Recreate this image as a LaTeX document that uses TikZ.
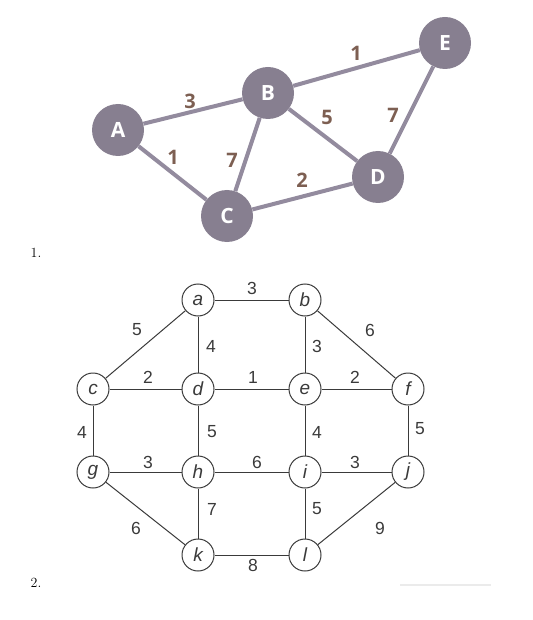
\documentclass[tikz,border=0pt]{standalone}
\usepackage{fontspec}
\newfontfamily\graphfont{Open Sans}
\newfontfamily\helvfont{Liberation Sans}

\definecolor{nodegray}{HTML}{877F90}
\definecolor{edgegray}{HTML}{938B9E}
\definecolor{weightbrown}{HTML}{7D5F52}
\definecolor{inkgray}{HTML}{3A3A3A}

\tikzstyle{bignode} = [
circle,
minimum size=52pt,
inner sep=0pt,
fill=nodegray,
text=white,
font=\graphfont\bfseries\fontsize{21}{23}\selectfont
]
\tikzstyle{bigedge} = [
line width=4pt,
draw=edgegray
]
\tikzstyle{bigweight} = [
inner sep=0pt,
text=weightbrown,
font=\graphfont\bfseries\fontsize{20}{22}\selectfont
]
\tikzstyle{smallnode} = [
circle,
minimum size=32pt,
inner sep=0pt,
draw=inkgray,
line width=1pt,
fill=white,
text=inkgray,
font=\helvfont\itshape\fontsize{19}{21}\selectfont
]
\tikzstyle{smalledge} = [
line width=1pt,
draw=inkgray
]
\tikzstyle{smallweight} = [
inner sep=0pt,
text=inkgray,
font=\helvfont\fontsize{17.5}{19}\selectfont
]
\tikzstyle{itemlabel} = [
inner sep=0pt,
font=\fontsize{14}{16}\selectfont
]

\begin{document}
\begin{tikzpicture}[
x=1pt,
y=-1pt
]
\useasboundingbox (0,0) rectangle (532,620);

% Item numbers
\node (item1) [itemlabel] at (36,253) {1.};
\node (item2) [itemlabel] at (36,583) {2.};

% Nodes, first graph
\node (A) [bignode] at (118,130) {A};
\node (B) [bignode] at (268,93) {B};
\node (C) [bignode] at (227,216) {C};
\node (D) [bignode] at (378,177) {D};
\node (E) [bignode] at (445,43) {E};

% Edges, first graph
\draw [bigedge] (A) -- (B);
\draw [bigedge] (A) -- (C);
\draw [bigedge] (B) -- (C);
\draw [bigedge] (B) -- (D);
\draw [bigedge] (B) -- (E);
\draw [bigedge] (C) -- (D);
\draw [bigedge] (D) -- (E);

% Weights, first graph
\node (wAB) [bigweight] at (190,101) {3};
\node (wAC) [bigweight] at (173,157) {1};
\node (wBC) [bigweight] at (232,160) {7};
\node (wBE) [bigweight] at (356,53) {1};
\node (wBD) [bigweight] at (327,117) {5};
\node (wDE) [bigweight] at (393,115) {7};
\node (wCD) [bigweight] at (302,180) {2};

% Nodes, second graph
\node (a) [smallnode] at (198,300) {a};
\node (b) [smallnode] at (305,300) {b};
\node (c) [smallnode] at (93,389) {c};
\node (d) [smallnode] at (198,389) {d};
\node (e) [smallnode] at (305,389) {e};
\node (f) [smallnode] at (408,389) {f};
\node (g) [smallnode] at (93,472) {g};
\node (h) [smallnode] at (198,472) {h};
\node (i) [smallnode] at (305,472) {i};
\node (j) [smallnode] at (408,472) {j};
\node (k) [smallnode] at (198,555) {k};
\node (l) [smallnode] at (305,555) {l};

% Edges, second graph
\draw [smalledge] (a) -- (b);
\draw [smalledge] (a) -- (c);
\draw [smalledge] (a) -- (d);
\draw [smalledge] (b) -- (e);
\draw [smalledge] (b) -- (f);
\draw [smalledge] (c) -- (d);
\draw [smalledge] (d) -- (e);
\draw [smalledge] (e) -- (f);
\draw [smalledge] (c) -- (g);
\draw [smalledge] (d) -- (h);
\draw [smalledge] (e) -- (i);
\draw [smalledge] (f) -- (j);
\draw [smalledge] (g) -- (h);
\draw [smalledge] (h) -- (i);
\draw [smalledge] (i) -- (j);
\draw [smalledge] (g) -- (k);
\draw [smalledge] (h) -- (k);
\draw [smalledge] (i) -- (l);
\draw [smalledge] (j) -- (l);
\draw [smalledge] (k) -- (l);

% Weights, second graph
\node (wab) [smallweight] at (252,288) {3};
\node (wac) [smallweight] at (137,330) {5};
\node (wad) [smallweight] at (211,346) {4};
\node (wbe) [smallweight] at (317,346) {3};
\node (wbf) [smallweight] at (370,330) {6};
\node (wcd) [smallweight] at (148,377) {2};
\node (wde) [smallweight] at (253,377) {1};
\node (wef) [smallweight] at (355,377) {2};
\node (wcg) [smallweight] at (82,432) {4};
\node (wdh) [smallweight] at (212,432) {5};
\node (wei) [smallweight] at (317,432) {4};
\node (wfj) [smallweight] at (420,429) {5};
\node (wgh) [smallweight] at (148,462) {3};
\node (whi) [smallweight] at (257,462) {6};
\node (wij) [smallweight] at (355,462) {3};
\node (whk) [smallweight] at (212,509) {7};
\node (wil) [smallweight] at (317,509) {5};
\node (wgk) [smallweight] at (136,528) {6};
\node (wjl) [smallweight] at (380,528) {9};
\node (wkl) [smallweight] at (253,565) {8};

% faint rule
\draw [black!8, line width=2pt] (400,585) -- (491,585);

\end{tikzpicture}
\end{document}
